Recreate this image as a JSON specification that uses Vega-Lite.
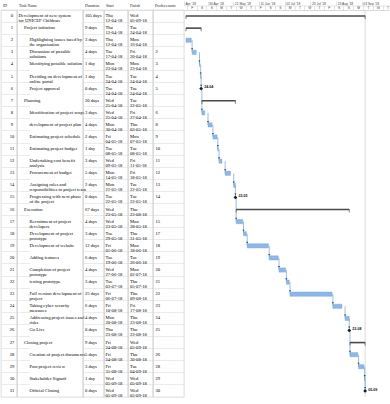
{
  "$schema": "https://vega.github.io/schema/vega-lite/v6.json",
  "padding": 0,
  "background": "white",
  "bounds": "flush",
  "spacing": 0,
  "config": {
    "view": {"stroke": "#c4c4c4", "strokeWidth": 0.6},
    "font": "Liberation Serif",
    "title": {"anchor": "start", "fontSize": 4, "fontWeight": "normal", "font": "Liberation Serif", "color": "#222", "offset": 2.5, "dx": 2}
  },
  "datasets": {
    "tasks": [
      {"id": 0, "name": "Development of new system\nfor UNICEF Childcare", "level": 0, "kind": "summary", "dur": "105 days", "start": "2018-04-12T08:00", "finish": "2018-09-05T17:00", "pred": null},
      {"id": 1, "name": "Project initiation", "level": 1, "kind": "summary", "dur": "9 days", "start": "2018-04-12T08:00", "finish": "2018-04-24T17:00", "pred": null},
      {"id": 2, "name": "Highlighting issues faced by\nthe organization", "level": 2, "kind": "task", "dur": "3 days", "start": "2018-04-12T08:00", "finish": "2018-04-16T17:00", "pred": null},
      {"id": 3, "name": "Discussion of possible\nsolutions", "level": 2, "kind": "task", "dur": "4 days", "start": "2018-04-17T08:00", "finish": "2018-04-20T17:00", "pred": 2},
      {"id": 4, "name": "Identifying possible solution", "level": 2, "kind": "task", "dur": "1 day", "start": "2018-04-23T08:00", "finish": "2018-04-23T17:00", "pred": 3},
      {"id": 5, "name": "Deciding on development of\nonline portal", "level": 2, "kind": "task", "dur": "1 day", "start": "2018-04-24T08:00", "finish": "2018-04-24T17:00", "pred": 4},
      {"id": 6, "name": "Project approval", "level": 2, "kind": "milestone", "dur": "0 days", "start": "2018-04-24T17:00", "finish": "2018-04-24T17:00", "pred": 5},
      {"id": 7, "name": "Planning", "level": 1, "kind": "summary", "dur": "20 days", "start": "2018-04-25T08:00", "finish": "2018-05-22T17:00", "pred": null},
      {"id": 8, "name": "Identification of project scope", "level": 2, "kind": "task", "dur": "3 days", "start": "2018-04-25T08:00", "finish": "2018-04-27T17:00", "pred": 6},
      {"id": 9, "name": "development of project plan", "level": 2, "kind": "task", "dur": "4 days", "start": "2018-04-30T08:00", "finish": "2018-05-03T17:00", "pred": 8},
      {"id": 10, "name": "Estimating project schedule", "level": 2, "kind": "task", "dur": "2 days", "start": "2018-05-04T08:00", "finish": "2018-05-07T17:00", "pred": 9},
      {"id": 11, "name": "Estimating project budget", "level": 2, "kind": "task", "dur": "1 day", "start": "2018-05-08T08:00", "finish": "2018-05-08T17:00", "pred": 10},
      {"id": 12, "name": "Undertaking cost benefit\nanalysis", "level": 2, "kind": "task", "dur": "3 days", "start": "2018-05-09T08:00", "finish": "2018-05-11T17:00", "pred": 11},
      {"id": 13, "name": "Procurement of budget", "level": 2, "kind": "task", "dur": "5 days", "start": "2018-05-14T08:00", "finish": "2018-05-18T17:00", "pred": 12},
      {"id": 14, "name": "Assigning roles and\nresponsibilities to project team", "level": 2, "kind": "task", "dur": "2 days", "start": "2018-05-21T08:00", "finish": "2018-05-22T17:00", "pred": 13},
      {"id": 15, "name": "Progressing with next phase\nof the project", "level": 2, "kind": "milestone", "dur": "0 days", "start": "2018-05-22T17:00", "finish": "2018-05-22T17:00", "pred": 14},
      {"id": 16, "name": "Execution", "level": 1, "kind": "summary", "dur": "67 days", "start": "2018-05-23T08:00", "finish": "2018-08-23T17:00", "pred": null},
      {"id": 17, "name": "Recruitment of project\ndevelopers", "level": 2, "kind": "task", "dur": "4 days", "start": "2018-05-23T08:00", "finish": "2018-05-28T17:00", "pred": 15},
      {"id": 18, "name": "Development of project\nprototype", "level": 2, "kind": "task", "dur": "3 days", "start": "2018-05-29T08:00", "finish": "2018-05-31T17:00", "pred": 17},
      {"id": 19, "name": "Development of website", "level": 2, "kind": "task", "dur": "12 days", "start": "2018-06-01T08:00", "finish": "2018-06-18T17:00", "pred": 18},
      {"id": 20, "name": "Adding features", "level": 2, "kind": "task", "dur": "6 days", "start": "2018-06-19T08:00", "finish": "2018-06-26T17:00", "pred": 19},
      {"id": 21, "name": "Completion of project\nprototype", "level": 2, "kind": "task", "dur": "4 days", "start": "2018-06-27T08:00", "finish": "2018-07-02T17:00", "pred": 20},
      {"id": 22, "name": "testing prototype", "level": 2, "kind": "task", "dur": "3 days", "start": "2018-07-03T08:00", "finish": "2018-07-05T17:00", "pred": 21},
      {"id": 23, "name": "Full version development of\nproject", "level": 2, "kind": "task", "dur": "25 days", "start": "2018-07-06T08:00", "finish": "2018-08-09T17:00", "pred": 22},
      {"id": 24, "name": "Taking cyber security\nmeasures", "level": 2, "kind": "task", "dur": "6 days", "start": "2018-08-10T08:00", "finish": "2018-08-17T17:00", "pred": 23},
      {"id": 25, "name": "Addressing project issues and\nrisks", "level": 2, "kind": "task", "dur": "4 days", "start": "2018-08-20T08:00", "finish": "2018-08-23T17:00", "pred": 24},
      {"id": 26, "name": "Go Live", "level": 2, "kind": "milestone", "dur": "0 days", "start": "2018-08-23T17:00", "finish": "2018-08-23T17:00", "pred": 25},
      {"id": 27, "name": "Closing project", "level": 1, "kind": "summary", "dur": "9 days", "start": "2018-08-24T08:00", "finish": "2018-09-05T17:00", "pred": null},
      {"id": 28, "name": "Creation of project documents", "level": 2, "kind": "task", "dur": "5 days", "start": "2018-08-24T08:00", "finish": "2018-08-30T17:00", "pred": 26},
      {"id": 29, "name": "Post project review", "level": 2, "kind": "task", "dur": "3 days", "start": "2018-08-31T08:00", "finish": "2018-09-04T17:00", "pred": 28},
      {"id": 30, "name": "Stakeholder Signoff", "level": 2, "kind": "task", "dur": "1 day", "start": "2018-09-05T08:00", "finish": "2018-09-05T17:00", "pred": 29},
      {"id": 31, "name": "Official Closing", "level": 2, "kind": "milestone", "dur": "0 days", "start": "2018-09-05T17:00", "finish": "2018-09-05T17:00", "pred": 30}
    ]
  },
  "hconcat": [
    {
      "width": 16, "height": 387,
      "title": {"text": "ID"},
      "data": {"name": "tasks"},
      "mark": {"type": "text", "fontSize": 4.6, "align": "center", "dx": 3},
      "encoding": {
        "y": {"field": "id", "type": "ordinal", "scale": {"type": "band", "domain": [0,1,2,3,4,5,6,7,8,9,10,11,12,13,14,15,16,17,18,19,20,21,22,23,24,25,26,27,28,29,30,31], "paddingInner": 0, "paddingOuter": 0}, "axis": {"title": null, "labels": false, "ticks": false, "domain": false, "grid": true, "gridColor": "#d6d6d6", "gridWidth": 0.5, "bandPosition": 0}},
        "text": {"field": "id", "type": "nominal"}
      }
    },
    {
      "width": 66, "height": 387,
      "title": {"text": "Task Name"},
      "data": {"name": "tasks"},
      "mark": {"type": "text", "fontSize": 4.6, "align": "left", "lineBreak": "\n", "lineHeight": 5},
      "encoding": {
        "x": {"field": "level", "type": "quantitative", "scale": {"domain": [0, 2], "range": [1.5, 12.5]}, "axis": null},
        "y": {"field": "id", "type": "ordinal", "scale": {"type": "band", "domain": [0,1,2,3,4,5,6,7,8,9,10,11,12,13,14,15,16,17,18,19,20,21,22,23,24,25,26,27,28,29,30,31], "paddingInner": 0, "paddingOuter": 0}, "axis": {"title": null, "labels": false, "ticks": false, "domain": false, "grid": true, "gridColor": "#d6d6d6", "gridWidth": 0.5, "bandPosition": 0}},
        "text": {"field": "name", "type": "nominal"},
        "fontWeight": {"condition": {"test": "datum.level < 2", "value": "bold"}, "value": "normal"}
      }
    },
    {
      "width": 21, "height": 387,
      "title": {"text": "Duration"},
      "data": {"name": "tasks"},
      "mark": {"type": "text", "fontSize": 4.6, "align": "left", "dx": -8.5},
      "encoding": {
        "y": {"field": "id", "type": "ordinal", "scale": {"type": "band", "domain": [0,1,2,3,4,5,6,7,8,9,10,11,12,13,14,15,16,17,18,19,20,21,22,23,24,25,26,27,28,29,30,31], "paddingInner": 0, "paddingOuter": 0}, "axis": {"title": null, "labels": false, "ticks": false, "domain": false, "grid": true, "gridColor": "#d6d6d6", "gridWidth": 0.5, "bandPosition": 0}},
        "text": {"field": "dur", "type": "nominal"},
        "fontWeight": {"condition": {"test": "datum.level < 2", "value": "bold"}, "value": "normal"}
      }
    },
    {
      "width": 24, "height": 387,
      "title": {"text": "Start"},
      "data": {"name": "tasks"},
      "mark": {"type": "text", "fontSize": 4.6, "align": "left", "dx": -10.5, "lineBreak": "\n", "lineHeight": 5},
      "encoding": {
        "y": {"field": "id", "type": "ordinal", "scale": {"type": "band", "domain": [0,1,2,3,4,5,6,7,8,9,10,11,12,13,14,15,16,17,18,19,20,21,22,23,24,25,26,27,28,29,30,31], "paddingInner": 0, "paddingOuter": 0}, "axis": {"title": null, "labels": false, "ticks": false, "domain": false, "grid": true, "gridColor": "#d6d6d6", "gridWidth": 0.5, "bandPosition": 0}},
        "text": {"field": "start", "type": "temporal", "format": "%a\n%d-%m-%y"},
        "fontWeight": {"condition": {"test": "datum.level < 2", "value": "bold"}, "value": "normal"}
      }
    },
    {
      "width": 25, "height": 387,
      "title": {"text": "Finish"},
      "data": {"name": "tasks"},
      "mark": {"type": "text", "fontSize": 4.6, "align": "left", "dx": -10.5, "lineBreak": "\n", "lineHeight": 5},
      "encoding": {
        "y": {"field": "id", "type": "ordinal", "scale": {"type": "band", "domain": [0,1,2,3,4,5,6,7,8,9,10,11,12,13,14,15,16,17,18,19,20,21,22,23,24,25,26,27,28,29,30,31], "paddingInner": 0, "paddingOuter": 0}, "axis": {"title": null, "labels": false, "ticks": false, "domain": false, "grid": true, "gridColor": "#d6d6d6", "gridWidth": 0.5, "bandPosition": 0}},
        "text": {"field": "finish", "type": "temporal", "format": "%a\n%d-%m-%y"},
        "fontWeight": {"condition": {"test": "datum.level < 2", "value": "bold"}, "value": "normal"}
      }
    },
    {
      "width": 31, "height": 387,
      "title": {"text": "Predecessors"},
      "data": {"name": "tasks"},
      "transform": [{"filter": "datum.pred != null"}],
      "mark": {"type": "text", "fontSize": 4.6, "align": "left", "dx": -13},
      "encoding": {
        "y": {"field": "id", "type": "ordinal", "scale": {"type": "band", "domain": [0,1,2,3,4,5,6,7,8,9,10,11,12,13,14,15,16,17,18,19,20,21,22,23,24,25,26,27,28,29,30,31], "paddingInner": 0, "paddingOuter": 0}, "axis": {"title": null, "labels": false, "ticks": false, "domain": false, "grid": true, "gridColor": "#d6d6d6", "gridWidth": 0.5, "bandPosition": 0}},
        "text": {"field": "pred", "type": "nominal"}
      }
    },
    {
      "width": 207, "height": 387,
      "view": {"stroke": null},
      "data": {"name": "tasks"},
      "resolve": {"axis": {"x": "independent"}},
      "layer": [
        {
          "data": {"values": [{"line": "project finish"}]},
          "mark": {"type": "rule", "color": "#c8c8c8", "strokeWidth": 0.7},
          "encoding": {
            "x": {"datum": {"year": 2018, "month": 9, "date": 5, "hours": 17}, "type": "temporal",
              "scale": {"domain": [{"year": 2018, "month": 4, "date": 10, "hours": 17}, {"year": 2018, "month": 9, "date": 26, "hours": 20}]},
              "axis": {"orient": "top", "title": null, "grid": false,
                "values": [{"year": 2018, "month": 4, "date": 13}, {"year": 2018, "month": 4, "date": 21}, {"year": 2018, "month": 4, "date": 29}, {"year": 2018, "month": 5, "date": 7}, {"year": 2018, "month": 5, "date": 15}, {"year": 2018, "month": 5, "date": 23}, {"year": 2018, "month": 5, "date": 31}, {"year": 2018, "month": 6, "date": 8}, {"year": 2018, "month": 6, "date": 16}, {"year": 2018, "month": 6, "date": 24}, {"year": 2018, "month": 7, "date": 2}, {"year": 2018, "month": 7, "date": 10}, {"year": 2018, "month": 7, "date": 18}, {"year": 2018, "month": 7, "date": 26}, {"year": 2018, "month": 8, "date": 3}, {"year": 2018, "month": 8, "date": 11}, {"year": 2018, "month": 8, "date": 19}, {"year": 2018, "month": 8, "date": 27}, {"year": 2018, "month": 9, "date": 4}, {"year": 2018, "month": 9, "date": 12}, {"year": 2018, "month": 9, "date": 20}],
                "labelExpr": "substring(timeFormat(datum.value, '%a'), 0, 1)",
                "tickSize": 4.5, "tickColor": "#c8c8c8", "tickWidth": 0.5,
                "domainColor": "#c0c0c0", "domainWidth": 0.6,
                "labelFont": "Liberation Sans", "labelFontSize": 3.3, "labelColor": "#444",
                "labelPadding": -4, "labelOffset": 4.9, "labelAlign": "center", "labelBaseline": "bottom",
                "labelOverlap": false, "labelFlush": false, "labelBound": false}
            }
          }
        },
        {
          "transform": [{"filter": "datum.pred != null"}],
          "mark": {"type": "rule", "color": "#5b8fd0", "strokeWidth": 0.6},
          "encoding": {
            "x": {"field": "start", "type": "temporal",
              "axis": {"orient": "top", "title": null, "grid": false, "offset": 4.5,
                "values": [{"year": 2018, "month": 4, "date": 10, "hours": 17}, {"year": 2018, "month": 4, "date": 30}, {"year": 2018, "month": 5, "date": 21}, {"year": 2018, "month": 6, "date": 11}, {"year": 2018, "month": 7, "date": 2}, {"year": 2018, "month": 7, "date": 23}, {"year": 2018, "month": 8, "date": 13}, {"year": 2018, "month": 9, "date": 3}],
                "labelExpr": "datum.value < datetime(2018, 3, 11) ? \"Apr '18\" : timeFormat(datum.value, \"%d %b '%y\")",
                "tickSize": 4.5, "tickColor": "#c8c8c8", "tickWidth": 0.5,
                "domainColor": "#c8c8c8", "domainWidth": 0.5,
                "labelFont": "Liberation Sans", "labelFontSize": 3.3, "labelColor": "#444",
                "labelPadding": -4, "labelOffset": 1, "labelAlign": "left", "labelBaseline": "bottom",
                "labelOverlap": false, "labelFlush": false, "labelBound": false}
            },
            "y": {"field": "pred", "type": "ordinal", "scale": {"type": "band", "domain": [0,1,2,3,4,5,6,7,8,9,10,11,12,13,14,15,16,17,18,19,20,21,22,23,24,25,26,27,28,29,30,31], "paddingInner": 0, "paddingOuter": 0}, "axis": null},
            "y2": {"field": "id"}
          }
        },
        {
          "transform": [{"filter": "datum.kind == 'summary'"}],
          "mark": {"type": "bar", "color": "#4a4a4a", "height": 1.6},
          "encoding": {
            "x": {"field": "start", "type": "temporal", "axis": null},
            "x2": {"field": "finish"},
            "y": {"field": "id", "type": "ordinal", "axis": null}
          }
        },
        {
          "transform": [{"filter": "datum.kind == 'summary'"}],
          "mark": {"type": "tick", "color": "#4a4a4a", "size": 3.4, "thickness": 1, "yOffset": 1.3},
          "encoding": {
            "x": {"field": "start", "type": "temporal", "axis": null},
            "y": {"field": "id", "type": "ordinal", "axis": null}
          }
        },
        {
          "transform": [{"filter": "datum.kind == 'summary'"}],
          "mark": {"type": "tick", "color": "#4a4a4a", "size": 3.4, "thickness": 1, "yOffset": 1.3},
          "encoding": {
            "x": {"field": "finish", "type": "temporal", "axis": null},
            "y": {"field": "id", "type": "ordinal", "axis": null}
          }
        },
        {
          "transform": [{"filter": "datum.kind == 'task'"}],
          "mark": {"type": "bar", "color": "#8db8e8", "stroke": "#6b9fd8", "strokeWidth": 0.4, "height": 4.2},
          "encoding": {
            "x": {"field": "start", "type": "temporal", "axis": null},
            "x2": {"field": "finish"},
            "y": {"field": "id", "type": "ordinal", "axis": null}
          }
        },
        {
          "transform": [{"filter": "datum.pred != null"}],
          "mark": {"type": "point", "shape": "triangle-down", "filled": true, "size": 4, "color": "#1b3a66", "opacity": 1, "yOffset": -3.1},
          "encoding": {
            "x": {"field": "start", "type": "temporal", "axis": null},
            "y": {"field": "id", "type": "ordinal", "axis": null}
          }
        },
        {
          "transform": [{"filter": "datum.kind == 'milestone'"}],
          "mark": {"type": "point", "shape": "diamond", "filled": true, "size": 14, "color": "#1a1a1a", "opacity": 1},
          "encoding": {
            "x": {"field": "finish", "type": "temporal", "axis": null},
            "y": {"field": "id", "type": "ordinal", "axis": null}
          }
        },
        {
          "transform": [{"filter": "datum.kind == 'milestone'"}],
          "mark": {"type": "text", "align": "left", "dx": 3, "dy": -1.2, "fontSize": 3.6, "font": "Liberation Sans", "fontWeight": "bold", "color": "#111"},
          "encoding": {
            "x": {"field": "finish", "type": "temporal", "axis": null},
            "y": {"field": "id", "type": "ordinal", "axis": null},
            "text": {"field": "finish", "type": "temporal", "format": "%d-%m"}
          }
        }
      ]
    }
  ]
}
